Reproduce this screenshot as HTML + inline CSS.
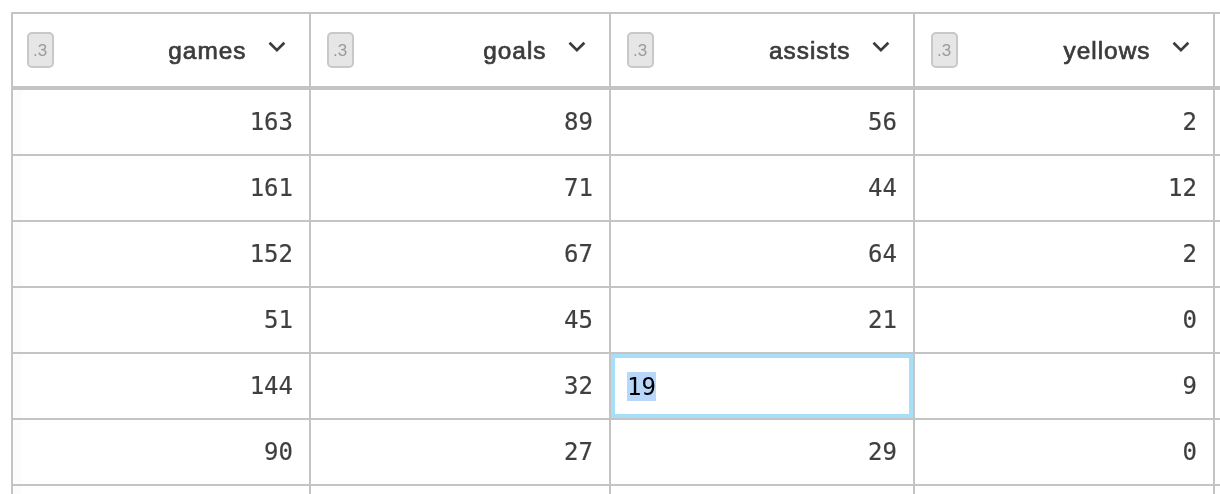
<!DOCTYPE html>
<html lang="en">
<head>
<meta charset="utf-8">
<title>table</title>
<style>
html,body{margin:0;padding:0;background:#fff;}
body{width:1220px;height:494px;overflow:hidden;position:relative;font-family:"Liberation Sans",sans-serif;}
.grid{position:absolute;left:0;top:0;width:1220px;height:494px;overflow:hidden;}
.ln{position:absolute;background:#c4c4c4;}
.th{position:absolute;top:14px;height:72px;}
.badge{position:absolute;top:18px;width:23px;height:32px;border:2px solid #c8c8c8;border-radius:5px;background:#e6e6e6;color:#9a9a9a;font-size:17px;line-height:34px;text-align:center;letter-spacing:-0.2px;text-indent:-1px;}
.name{position:absolute;right:62.5px;top:0.9px;height:72px;line-height:72px;font-size:24.4px;letter-spacing:1.0px;color:#3b3b3b;white-space:nowrap;-webkit-text-stroke:0.7px #3b3b3b;}
.chev{position:absolute;right:22px;top:26px;width:20px;height:14px;}
.td{position:absolute;height:64px;line-height:64px;font-family:"DejaVu Sans Mono","Liberation Mono",monospace;font-size:24px;color:#3f3f3f;text-align:right;white-space:nowrap;-webkit-text-stroke:0.2px #3f3f3f;}
.td span{position:absolute;right:16px;top:0;}
.edit{position:absolute;box-sizing:border-box;border:4px solid #a8dff8;background:#fff;}
.edit .sel{position:absolute;left:12px;top:14px;height:29px;background:#b9d6fb;color:#000;font-family:"DejaVu Sans Mono","Liberation Mono",monospace;font-size:24px;line-height:31px;white-space:nowrap;}
.shade{position:absolute;left:14px;top:90px;width:8px;height:404px;background:#fcfcfc;}
</style>
</head>
<body>
<div class="grid">
<div class="shade"></div>
<div class="th" style="left:13px;width:296px"><div class="badge" style="left:14px">.3</div><div class="name">games</div><svg class="chev" viewBox="0 0 20 14"><path d="M2.5 2.75 L9.92 10.15 L17.34 2.75" fill="none" stroke="#3b3b3b" stroke-width="2.7" stroke-linecap="butt" stroke-linejoin="miter"/></svg></div>
<div class="th" style="left:311px;width:298px"><div class="badge" style="left:16px">.3</div><div class="name">goals</div><svg class="chev" viewBox="0 0 20 14"><path d="M2.5 2.75 L9.92 10.15 L17.34 2.75" fill="none" stroke="#3b3b3b" stroke-width="2.7" stroke-linecap="butt" stroke-linejoin="miter"/></svg></div>
<div class="th" style="left:611px;width:302px"><div class="badge" style="left:16px">.3</div><div class="name">assists</div><svg class="chev" viewBox="0 0 20 14"><path d="M2.5 2.75 L9.92 10.15 L17.34 2.75" fill="none" stroke="#3b3b3b" stroke-width="2.7" stroke-linecap="butt" stroke-linejoin="miter"/></svg></div>
<div class="th" style="left:915px;width:298px"><div class="badge" style="left:16px">.3</div><div class="name">yellows</div><svg class="chev" viewBox="0 0 20 14"><path d="M2.5 2.75 L9.92 10.15 L17.34 2.75" fill="none" stroke="#3b3b3b" stroke-width="2.7" stroke-linecap="butt" stroke-linejoin="miter"/></svg></div>
<div class="td" style="left:13px;top:90px;width:296px"><span>163</span></div>
<div class="td" style="left:311px;top:90px;width:298px"><span>89</span></div>
<div class="td" style="left:611px;top:90px;width:302px"><span>56</span></div>
<div class="td" style="left:915px;top:90px;width:298px"><span>2</span></div>
<div class="td" style="left:13px;top:156px;width:296px"><span>161</span></div>
<div class="td" style="left:311px;top:156px;width:298px"><span>71</span></div>
<div class="td" style="left:611px;top:156px;width:302px"><span>44</span></div>
<div class="td" style="left:915px;top:156px;width:298px"><span>12</span></div>
<div class="td" style="left:13px;top:222px;width:296px"><span>152</span></div>
<div class="td" style="left:311px;top:222px;width:298px"><span>67</span></div>
<div class="td" style="left:611px;top:222px;width:302px"><span>64</span></div>
<div class="td" style="left:915px;top:222px;width:298px"><span>2</span></div>
<div class="td" style="left:13px;top:288px;width:296px"><span>51</span></div>
<div class="td" style="left:311px;top:288px;width:298px"><span>45</span></div>
<div class="td" style="left:611px;top:288px;width:302px"><span>21</span></div>
<div class="td" style="left:915px;top:288px;width:298px"><span>0</span></div>
<div class="td" style="left:13px;top:354px;width:296px"><span>144</span></div>
<div class="td" style="left:311px;top:354px;width:298px"><span>32</span></div>
<div class="edit" style="left:611px;top:354px;width:302px;height:64px"><span class="sel">19</span></div>
<div class="td" style="left:915px;top:354px;width:298px"><span>9</span></div>
<div class="td" style="left:13px;top:420px;width:296px"><span>90</span></div>
<div class="td" style="left:311px;top:420px;width:298px"><span>27</span></div>
<div class="td" style="left:611px;top:420px;width:302px"><span>29</span></div>
<div class="td" style="left:915px;top:420px;width:298px"><span>0</span></div>
<div class="ln" style="left:11px;top:12px;width:1209px;height:2px"></div>
<div class="ln" style="left:11px;top:12px;width:2px;height:482px"></div>
<div class="ln" style="left:309px;top:12px;width:2px;height:482px"></div>
<div class="ln" style="left:609px;top:12px;width:2px;height:482px"></div>
<div class="ln" style="left:913px;top:12px;width:2px;height:482px"></div>
<div class="ln" style="left:1213px;top:12px;width:2px;height:482px"></div>
<div class="ln" style="left:11px;top:86px;width:1209px;height:4px"></div>
<div class="ln" style="left:11px;top:154px;width:1209px;height:2px"></div>
<div class="ln" style="left:11px;top:220px;width:1209px;height:2px"></div>
<div class="ln" style="left:11px;top:286px;width:1209px;height:2px"></div>
<div class="ln" style="left:11px;top:352px;width:1209px;height:2px"></div>
<div class="ln" style="left:11px;top:418px;width:1209px;height:2px"></div>
<div class="ln" style="left:11px;top:484px;width:1209px;height:2px"></div>
</div>
</body>
</html>
